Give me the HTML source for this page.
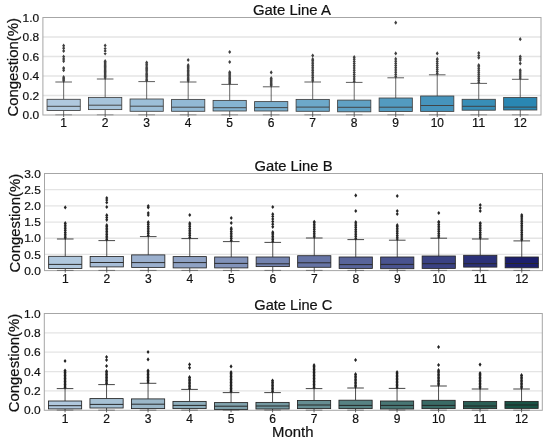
<!DOCTYPE html>
<html><head><meta charset="utf-8"><title>Gate Line Congestion</title>
<style>
html,body{margin:0;padding:0;background:#fff;}
body{width:550px;height:443px;overflow:hidden;}
svg{display:block;filter:blur(0.2px);}
text{font-family:"Liberation Sans", sans-serif;fill:#111;stroke:#111;stroke-width:0.2px;}
</style></head>
<body>
<svg width="550" height="443" viewBox="0 0 550 443">
<rect width="550" height="443" fill="#fff"/>
<line x1="42.90" y1="95.50" x2="541.00" y2="95.50" stroke="#e4e4e4" stroke-width="1.3"/>
<line x1="42.90" y1="76.00" x2="541.00" y2="76.00" stroke="#e4e4e4" stroke-width="1.3"/>
<line x1="42.90" y1="56.50" x2="541.00" y2="56.50" stroke="#e4e4e4" stroke-width="1.3"/>
<line x1="42.90" y1="37.00" x2="541.00" y2="37.00" stroke="#e4e4e4" stroke-width="1.3"/>
<rect x="42.90" y="17.50" width="498.10" height="97.50" fill="none" stroke="#a6a6a6" stroke-width="1.0"/>
<path d="M63.65 82.00V99.30M63.65 110.50V115.00" stroke="#404040" stroke-width="0.80" fill="none"/>
<path d="M55.35 82.00H71.96" stroke="#404040" stroke-width="0.85" fill="none"/>
<path d="M55.35 114.80H71.96" stroke="#404040" stroke-width="0.85" fill="none" opacity="0.55"/>
<rect x="47.05" y="99.30" width="33.21" height="11.20" fill="#b0c8de" stroke="#404040" stroke-width="0.85"/>
<line x1="47.05" y1="106.30" x2="80.26" y2="106.30" stroke="#404040" stroke-width="0.95"/>
<path d="M63.65 78.70L65.15 80.80L63.65 82.90L62.15 80.80ZM63.65 77.50L65.15 79.60L63.65 81.70L62.15 79.60ZM63.65 76.30L65.15 78.40L63.65 80.50L62.15 78.40ZM63.65 75.10L65.15 77.20L63.65 79.30L62.15 77.20ZM63.65 68.10L65.15 70.20L63.65 72.30L62.15 70.20ZM63.65 66.20L65.15 68.30L63.65 70.40L62.15 68.30ZM63.65 65.90L65.15 68.00L63.65 70.10L62.15 68.00ZM63.65 59.00L65.15 61.10L63.65 63.20L62.15 61.10ZM63.65 56.80L65.15 58.90L63.65 61.00L62.15 58.90ZM63.65 54.60L65.15 56.70L63.65 58.80L62.15 56.70ZM63.65 43.60L65.15 45.70L63.65 47.80L62.15 45.70ZM63.65 46.10L65.15 48.20L63.65 50.30L62.15 48.20ZM63.65 48.80L65.15 50.90L63.65 53.00L62.15 50.90Z" fill="#404040"/>
<path d="M105.16 79.00V97.40M105.16 109.60V115.00" stroke="#404040" stroke-width="0.80" fill="none"/>
<path d="M96.86 79.00H113.46" stroke="#404040" stroke-width="0.85" fill="none"/>
<path d="M96.86 114.80H113.46" stroke="#404040" stroke-width="0.85" fill="none" opacity="0.55"/>
<rect x="88.56" y="97.40" width="33.21" height="12.20" fill="#a7c4db" stroke="#404040" stroke-width="0.85"/>
<line x1="88.56" y1="105.20" x2="121.77" y2="105.20" stroke="#404040" stroke-width="0.95"/>
<path d="M105.16 75.70L106.66 77.80L105.16 79.90L103.66 77.80ZM105.16 74.45L106.66 76.55L105.16 78.65L103.66 76.55ZM105.16 73.20L106.66 75.30L105.16 77.40L103.66 75.30ZM105.16 71.95L106.66 74.05L105.16 76.15L103.66 74.05ZM105.16 70.70L106.66 72.80L105.16 74.90L103.66 72.80ZM105.16 69.45L106.66 71.55L105.16 73.65L103.66 71.55ZM105.16 68.20L106.66 70.30L105.16 72.40L103.66 70.30ZM105.16 66.95L106.66 69.05L105.16 71.15L103.66 69.05ZM105.16 65.70L106.66 67.80L105.16 69.90L103.66 67.80ZM105.16 64.45L106.66 66.55L105.16 68.65L103.66 66.55ZM105.16 63.20L106.66 65.30L105.16 67.40L103.66 65.30ZM105.16 61.95L106.66 64.05L105.16 66.15L103.66 64.05ZM105.16 60.70L106.66 62.80L105.16 64.90L103.66 62.80ZM105.16 59.45L106.66 61.55L105.16 63.65L103.66 61.55ZM105.16 59.10L106.66 61.20L105.16 63.30L103.66 61.20ZM105.16 43.40L106.66 45.50L105.16 47.60L103.66 45.50ZM105.16 46.40L106.66 48.50L105.16 50.60L103.66 48.50ZM105.16 48.90L106.66 51.00L105.16 53.10L103.66 51.00ZM105.16 51.40L106.66 53.50L105.16 55.60L103.66 53.50Z" fill="#404040"/>
<path d="M146.67 81.60V99.00M146.67 111.30V115.00" stroke="#404040" stroke-width="0.80" fill="none"/>
<path d="M138.37 81.60H154.97" stroke="#404040" stroke-width="0.85" fill="none"/>
<path d="M138.37 114.80H154.97" stroke="#404040" stroke-width="0.85" fill="none" opacity="0.55"/>
<rect x="130.07" y="99.00" width="33.21" height="12.30" fill="#9dbfd8" stroke="#404040" stroke-width="0.85"/>
<line x1="130.07" y1="106.20" x2="163.27" y2="106.20" stroke="#404040" stroke-width="0.95"/>
<path d="M146.67 78.30L148.17 80.40L146.67 82.50L145.17 80.40ZM146.67 77.10L148.17 79.20L146.67 81.30L145.17 79.20ZM146.67 75.90L148.17 78.00L146.67 80.10L145.17 78.00ZM146.67 74.70L148.17 76.80L146.67 78.90L145.17 76.80ZM146.67 73.50L148.17 75.60L146.67 77.70L145.17 75.60ZM146.67 72.30L148.17 74.40L146.67 76.50L145.17 74.40ZM146.67 71.10L148.17 73.20L146.67 75.30L145.17 73.20ZM146.67 69.90L148.17 72.00L146.67 74.10L145.17 72.00ZM146.67 68.70L148.17 70.80L146.67 72.90L145.17 70.80ZM146.67 67.50L148.17 69.60L146.67 71.70L145.17 69.60ZM146.67 66.30L148.17 68.40L146.67 70.50L145.17 68.40ZM146.67 65.10L148.17 67.20L146.67 69.30L145.17 67.20ZM146.67 63.90L148.17 66.00L146.67 68.10L145.17 66.00ZM146.67 62.70L148.17 64.80L146.67 66.90L145.17 64.80ZM146.67 61.50L148.17 63.60L146.67 65.70L145.17 63.60ZM146.67 60.50L148.17 62.60L146.67 64.70L145.17 62.60Z" fill="#404040"/>
<path d="M188.18 82.00V99.40M188.18 111.30V115.00" stroke="#404040" stroke-width="0.80" fill="none"/>
<path d="M179.88 82.00H196.48" stroke="#404040" stroke-width="0.85" fill="none"/>
<path d="M179.88 114.80H196.48" stroke="#404040" stroke-width="0.85" fill="none" opacity="0.55"/>
<rect x="171.58" y="99.40" width="33.21" height="11.90" fill="#92b9d4" stroke="#404040" stroke-width="0.85"/>
<line x1="171.58" y1="107.20" x2="204.78" y2="107.20" stroke="#404040" stroke-width="0.95"/>
<path d="M188.18 78.70L189.68 80.80L188.18 82.90L186.68 80.80ZM188.18 77.40L189.68 79.50L188.18 81.60L186.68 79.50ZM188.18 76.10L189.68 78.20L188.18 80.30L186.68 78.20ZM188.18 74.80L189.68 76.90L188.18 79.00L186.68 76.90ZM188.18 73.50L189.68 75.60L188.18 77.70L186.68 75.60ZM188.18 72.20L189.68 74.30L188.18 76.40L186.68 74.30ZM188.18 70.90L189.68 73.00L188.18 75.10L186.68 73.00ZM188.18 69.60L189.68 71.70L188.18 73.80L186.68 71.70ZM188.18 68.30L189.68 70.40L188.18 72.50L186.68 70.40ZM188.18 67.00L189.68 69.10L188.18 71.20L186.68 69.10ZM188.18 65.70L189.68 67.80L188.18 69.90L186.68 67.80ZM188.18 64.40L189.68 66.50L188.18 68.60L186.68 66.50ZM188.18 63.10L189.68 65.20L188.18 67.30L186.68 65.20ZM188.18 63.10L189.68 65.20L188.18 67.30L186.68 65.20ZM188.18 57.90L189.68 60.00L188.18 62.10L186.68 60.00Z" fill="#404040"/>
<path d="M229.69 84.40V100.40M229.69 111.00V115.00" stroke="#404040" stroke-width="0.80" fill="none"/>
<path d="M221.39 84.40H237.99" stroke="#404040" stroke-width="0.85" fill="none"/>
<path d="M221.39 114.80H237.99" stroke="#404040" stroke-width="0.85" fill="none" opacity="0.55"/>
<rect x="213.08" y="100.40" width="33.21" height="10.60" fill="#86b4d1" stroke="#404040" stroke-width="0.85"/>
<line x1="213.08" y1="107.70" x2="246.29" y2="107.70" stroke="#404040" stroke-width="0.95"/>
<path d="M229.69 81.10L231.19 83.20L229.69 85.30L228.19 83.20ZM229.69 79.90L231.19 82.00L229.69 84.10L228.19 82.00ZM229.69 78.70L231.19 80.80L229.69 82.90L228.19 80.80ZM229.69 77.50L231.19 79.60L229.69 81.70L228.19 79.60ZM229.69 76.30L231.19 78.40L229.69 80.50L228.19 78.40ZM229.69 75.10L231.19 77.20L229.69 79.30L228.19 77.20ZM229.69 73.90L231.19 76.00L229.69 78.10L228.19 76.00ZM229.69 72.70L231.19 74.80L229.69 76.90L228.19 74.80ZM229.69 71.50L231.19 73.60L229.69 75.70L228.19 73.60ZM229.69 70.30L231.19 72.40L229.69 74.50L228.19 72.40ZM229.69 70.10L231.19 72.20L229.69 74.30L228.19 72.20ZM229.69 59.90L231.19 62.00L229.69 64.10L228.19 62.00ZM229.69 49.90L231.19 52.00L229.69 54.10L228.19 52.00Z" fill="#404040"/>
<path d="M271.20 86.80V101.60M271.20 111.00V115.00" stroke="#404040" stroke-width="0.80" fill="none"/>
<path d="M262.89 86.80H279.50" stroke="#404040" stroke-width="0.85" fill="none"/>
<path d="M262.89 114.80H279.50" stroke="#404040" stroke-width="0.85" fill="none" opacity="0.55"/>
<rect x="254.59" y="101.60" width="33.21" height="9.40" fill="#7aaecd" stroke="#404040" stroke-width="0.85"/>
<line x1="254.59" y1="107.60" x2="287.80" y2="107.60" stroke="#404040" stroke-width="0.95"/>
<path d="M271.20 83.50L272.70 85.60L271.20 87.70L269.70 85.60ZM271.20 82.30L272.70 84.40L271.20 86.50L269.70 84.40ZM271.20 81.10L272.70 83.20L271.20 85.30L269.70 83.20ZM271.20 79.90L272.70 82.00L271.20 84.10L269.70 82.00ZM271.20 78.70L272.70 80.80L271.20 82.90L269.70 80.80ZM271.20 77.50L272.70 79.60L271.20 81.70L269.70 79.60ZM271.20 76.30L272.70 78.40L271.20 80.50L269.70 78.40ZM271.20 76.10L272.70 78.20L271.20 80.30L269.70 78.20ZM271.20 70.30L272.70 72.40L271.20 74.50L269.70 72.40Z" fill="#404040"/>
<path d="M312.70 82.00V99.40M312.70 111.30V115.00" stroke="#404040" stroke-width="0.80" fill="none"/>
<path d="M304.40 82.00H321.01" stroke="#404040" stroke-width="0.85" fill="none"/>
<path d="M304.40 114.80H321.01" stroke="#404040" stroke-width="0.85" fill="none" opacity="0.55"/>
<rect x="296.10" y="99.40" width="33.21" height="11.90" fill="#6da8c9" stroke="#404040" stroke-width="0.85"/>
<line x1="296.10" y1="107.10" x2="329.31" y2="107.10" stroke="#404040" stroke-width="0.95"/>
<path d="M312.70 78.70L314.20 80.80L312.70 82.90L311.20 80.80ZM312.70 77.00L314.20 79.10L312.70 81.20L311.20 79.10ZM312.70 75.30L314.20 77.40L312.70 79.50L311.20 77.40ZM312.70 73.60L314.20 75.70L312.70 77.80L311.20 75.70ZM312.70 71.90L314.20 74.00L312.70 76.10L311.20 74.00ZM312.70 70.20L314.20 72.30L312.70 74.40L311.20 72.30ZM312.70 68.50L314.20 70.60L312.70 72.70L311.20 70.60ZM312.70 66.80L314.20 68.90L312.70 71.00L311.20 68.90ZM312.70 65.10L314.20 67.20L312.70 69.30L311.20 67.20ZM312.70 63.40L314.20 65.50L312.70 67.60L311.20 65.50ZM312.70 61.70L314.20 63.80L312.70 65.90L311.20 63.80ZM312.70 60.00L314.20 62.10L312.70 64.20L311.20 62.10ZM312.70 58.30L314.20 60.40L312.70 62.50L311.20 60.40ZM312.70 57.10L314.20 59.20L312.70 61.30L311.20 59.20ZM312.70 53.50L314.20 55.60L312.70 57.70L311.20 55.60Z" fill="#404040"/>
<path d="M354.21 82.40V100.10M354.21 111.80V115.00" stroke="#404040" stroke-width="0.80" fill="none"/>
<path d="M345.91 82.40H362.51" stroke="#404040" stroke-width="0.85" fill="none"/>
<path d="M345.91 114.80H362.51" stroke="#404040" stroke-width="0.85" fill="none" opacity="0.55"/>
<rect x="337.61" y="100.10" width="33.21" height="11.70" fill="#60a1c4" stroke="#404040" stroke-width="0.85"/>
<line x1="337.61" y1="107.30" x2="370.82" y2="107.30" stroke="#404040" stroke-width="0.95"/>
<path d="M354.21 79.10L355.71 81.20L354.21 83.30L352.71 81.20ZM354.21 76.90L355.71 79.00L354.21 81.10L352.71 79.00ZM354.21 74.70L355.71 76.80L354.21 78.90L352.71 76.80ZM354.21 72.50L355.71 74.60L354.21 76.70L352.71 74.60ZM354.21 70.30L355.71 72.40L354.21 74.50L352.71 72.40ZM354.21 68.10L355.71 70.20L354.21 72.30L352.71 70.20ZM354.21 65.90L355.71 68.00L354.21 70.10L352.71 68.00ZM354.21 63.70L355.71 65.80L354.21 67.90L352.71 65.80ZM354.21 61.50L355.71 63.60L354.21 65.70L352.71 63.60ZM354.21 59.30L355.71 61.40L354.21 63.50L352.71 61.40ZM354.21 57.10L355.71 59.20L354.21 61.30L352.71 59.20ZM354.21 55.10L355.71 57.20L354.21 59.30L352.71 57.20Z" fill="#404040"/>
<path d="M395.72 77.80V98.00M395.72 111.50V115.00" stroke="#404040" stroke-width="0.80" fill="none"/>
<path d="M387.42 77.80H404.02" stroke="#404040" stroke-width="0.85" fill="none"/>
<path d="M387.42 114.80H404.02" stroke="#404040" stroke-width="0.85" fill="none" opacity="0.55"/>
<rect x="379.12" y="98.00" width="33.21" height="13.50" fill="#539bc0" stroke="#404040" stroke-width="0.85"/>
<line x1="379.12" y1="107.20" x2="412.32" y2="107.20" stroke="#404040" stroke-width="0.95"/>
<path d="M395.72 74.50L397.22 76.60L395.72 78.70L394.22 76.60ZM395.72 72.30L397.22 74.40L395.72 76.50L394.22 74.40ZM395.72 70.10L397.22 72.20L395.72 74.30L394.22 72.20ZM395.72 67.90L397.22 70.00L395.72 72.10L394.22 70.00ZM395.72 65.70L397.22 67.80L395.72 69.90L394.22 67.80ZM395.72 63.50L397.22 65.60L395.72 67.70L394.22 65.60ZM395.72 61.30L397.22 63.40L395.72 65.50L394.22 63.40ZM395.72 59.10L397.22 61.20L395.72 63.30L394.22 61.20ZM395.72 56.90L397.22 59.00L395.72 61.10L394.22 59.00ZM395.72 56.80L397.22 58.90L395.72 61.00L394.22 58.90ZM395.72 51.30L397.22 53.40L395.72 55.50L394.22 53.40ZM395.72 20.60L397.22 22.70L395.72 24.80L394.22 22.70Z" fill="#404040"/>
<path d="M437.23 74.80V96.00M437.23 111.40V115.00" stroke="#404040" stroke-width="0.80" fill="none"/>
<path d="M428.93 74.80H445.53" stroke="#404040" stroke-width="0.85" fill="none"/>
<path d="M428.93 114.80H445.53" stroke="#404040" stroke-width="0.85" fill="none" opacity="0.55"/>
<rect x="420.63" y="96.00" width="33.21" height="15.40" fill="#4694bc" stroke="#404040" stroke-width="0.85"/>
<line x1="420.63" y1="105.50" x2="453.83" y2="105.50" stroke="#404040" stroke-width="0.95"/>
<path d="M437.23 71.50L438.73 73.60L437.23 75.70L435.73 73.60ZM437.23 69.50L438.73 71.60L437.23 73.70L435.73 71.60ZM437.23 67.50L438.73 69.60L437.23 71.70L435.73 69.60ZM437.23 65.50L438.73 67.60L437.23 69.70L435.73 67.60ZM437.23 63.50L438.73 65.60L437.23 67.70L435.73 65.60ZM437.23 61.50L438.73 63.60L437.23 65.70L435.73 63.60ZM437.23 59.50L438.73 61.60L437.23 63.70L435.73 61.60ZM437.23 57.50L438.73 59.60L437.23 61.70L435.73 59.60ZM437.23 56.80L438.73 58.90L437.23 61.00L435.73 58.90ZM437.23 51.30L438.73 53.40L437.23 55.50L435.73 53.40Z" fill="#404040"/>
<path d="M478.74 83.40V99.30M478.74 110.20V115.00" stroke="#404040" stroke-width="0.80" fill="none"/>
<path d="M470.44 83.40H487.04" stroke="#404040" stroke-width="0.85" fill="none"/>
<path d="M470.44 114.80H487.04" stroke="#404040" stroke-width="0.85" fill="none" opacity="0.55"/>
<rect x="462.13" y="99.30" width="33.21" height="10.90" fill="#388eb7" stroke="#404040" stroke-width="0.85"/>
<line x1="462.13" y1="106.30" x2="495.34" y2="106.30" stroke="#404040" stroke-width="0.95"/>
<path d="M478.74 80.10L480.24 82.20L478.74 84.30L477.24 82.20ZM478.74 78.10L480.24 80.20L478.74 82.30L477.24 80.20ZM478.74 76.10L480.24 78.20L478.74 80.30L477.24 78.20ZM478.74 74.10L480.24 76.20L478.74 78.30L477.24 76.20ZM478.74 72.10L480.24 74.20L478.74 76.30L477.24 74.20ZM478.74 70.10L480.24 72.20L478.74 74.30L477.24 72.20ZM478.74 68.10L480.24 70.20L478.74 72.30L477.24 70.20ZM478.74 66.10L480.24 68.20L478.74 70.30L477.24 68.20ZM478.74 64.10L480.24 66.20L478.74 68.30L477.24 66.20ZM478.74 63.10L480.24 65.20L478.74 67.30L477.24 65.20ZM478.74 55.60L480.24 57.70L478.74 59.80L477.24 57.70ZM478.74 53.40L480.24 55.50L478.74 57.60L477.24 55.50ZM478.74 50.90L480.24 53.00L478.74 55.10L477.24 53.00Z" fill="#404040"/>
<path d="M520.25 79.30V97.50M520.25 110.00V115.00" stroke="#404040" stroke-width="0.80" fill="none"/>
<path d="M511.94 79.30H528.55" stroke="#404040" stroke-width="0.85" fill="none"/>
<path d="M511.94 114.80H528.55" stroke="#404040" stroke-width="0.85" fill="none" opacity="0.55"/>
<rect x="503.64" y="97.50" width="33.21" height="12.50" fill="#2a87b3" stroke="#404040" stroke-width="0.85"/>
<line x1="503.64" y1="107.10" x2="536.85" y2="107.10" stroke="#404040" stroke-width="0.95"/>
<path d="M520.25 76.00L521.75 78.10L520.25 80.20L518.75 78.10ZM520.25 74.00L521.75 76.10L520.25 78.20L518.75 76.10ZM520.25 72.00L521.75 74.10L520.25 76.20L518.75 74.10ZM520.25 70.00L521.75 72.10L520.25 74.20L518.75 72.10ZM520.25 68.10L521.75 70.20L520.25 72.30L518.75 70.20ZM520.25 61.30L521.75 63.40L520.25 65.50L518.75 63.40ZM520.25 57.90L521.75 60.00L520.25 62.10L518.75 60.00ZM520.25 56.20L521.75 58.30L520.25 60.40L518.75 58.30ZM520.25 54.50L521.75 56.60L520.25 58.70L518.75 56.60ZM520.25 37.10L521.75 39.20L520.25 41.30L518.75 39.20Z" fill="#404040"/>
<line x1="63.65" y1="115.00" x2="63.65" y2="117.00" stroke="#555" stroke-width="0.9"/>
<line x1="105.16" y1="115.00" x2="105.16" y2="117.00" stroke="#555" stroke-width="0.9"/>
<line x1="146.67" y1="115.00" x2="146.67" y2="117.00" stroke="#555" stroke-width="0.9"/>
<line x1="188.18" y1="115.00" x2="188.18" y2="117.00" stroke="#555" stroke-width="0.9"/>
<line x1="229.69" y1="115.00" x2="229.69" y2="117.00" stroke="#555" stroke-width="0.9"/>
<line x1="271.20" y1="115.00" x2="271.20" y2="117.00" stroke="#555" stroke-width="0.9"/>
<line x1="312.70" y1="115.00" x2="312.70" y2="117.00" stroke="#555" stroke-width="0.9"/>
<line x1="354.21" y1="115.00" x2="354.21" y2="117.00" stroke="#555" stroke-width="0.9"/>
<line x1="395.72" y1="115.00" x2="395.72" y2="117.00" stroke="#555" stroke-width="0.9"/>
<line x1="437.23" y1="115.00" x2="437.23" y2="117.00" stroke="#555" stroke-width="0.9"/>
<line x1="478.74" y1="115.00" x2="478.74" y2="117.00" stroke="#555" stroke-width="0.9"/>
<line x1="520.25" y1="115.00" x2="520.25" y2="117.00" stroke="#555" stroke-width="0.9"/>
<text x="39.20" y="119.10" text-anchor="end" font-size="11.4" textLength="16.6" lengthAdjust="spacingAndGlyphs">0.0</text>
<text x="39.20" y="99.60" text-anchor="end" font-size="11.4" textLength="16.6" lengthAdjust="spacingAndGlyphs">0.2</text>
<text x="39.20" y="80.10" text-anchor="end" font-size="11.4" textLength="16.6" lengthAdjust="spacingAndGlyphs">0.4</text>
<text x="39.20" y="60.60" text-anchor="end" font-size="11.4" textLength="16.6" lengthAdjust="spacingAndGlyphs">0.6</text>
<text x="39.20" y="41.10" text-anchor="end" font-size="11.4" textLength="16.6" lengthAdjust="spacingAndGlyphs">0.8</text>
<text x="39.20" y="21.60" text-anchor="end" font-size="11.4" textLength="16.6" lengthAdjust="spacingAndGlyphs">1.0</text>
<text x="63.65" y="126.60" text-anchor="middle" font-size="12.1" textLength="6.7" lengthAdjust="spacingAndGlyphs">1</text>
<text x="105.16" y="126.60" text-anchor="middle" font-size="12.1" textLength="6.7" lengthAdjust="spacingAndGlyphs">2</text>
<text x="146.67" y="126.60" text-anchor="middle" font-size="12.1" textLength="6.7" lengthAdjust="spacingAndGlyphs">3</text>
<text x="188.18" y="126.60" text-anchor="middle" font-size="12.1" textLength="6.7" lengthAdjust="spacingAndGlyphs">4</text>
<text x="229.69" y="126.60" text-anchor="middle" font-size="12.1" textLength="6.7" lengthAdjust="spacingAndGlyphs">5</text>
<text x="271.20" y="126.60" text-anchor="middle" font-size="12.1" textLength="6.7" lengthAdjust="spacingAndGlyphs">6</text>
<text x="312.70" y="126.60" text-anchor="middle" font-size="12.1" textLength="6.7" lengthAdjust="spacingAndGlyphs">7</text>
<text x="354.21" y="126.60" text-anchor="middle" font-size="12.1" textLength="6.7" lengthAdjust="spacingAndGlyphs">8</text>
<text x="395.72" y="126.60" text-anchor="middle" font-size="12.1" textLength="6.7" lengthAdjust="spacingAndGlyphs">9</text>
<text x="437.23" y="126.60" text-anchor="middle" font-size="12.1" textLength="13.2" lengthAdjust="spacingAndGlyphs">10</text>
<text x="478.74" y="126.60" text-anchor="middle" font-size="12.1" textLength="13.2" lengthAdjust="spacingAndGlyphs">11</text>
<text x="520.25" y="126.60" text-anchor="middle" font-size="12.1" textLength="13.2" lengthAdjust="spacingAndGlyphs">12</text>
<text x="291.95" y="14.60" text-anchor="middle" font-size="14" textLength="78" lengthAdjust="spacingAndGlyphs">Gate Line A</text>
<text transform="translate(17.90 67.35) rotate(-90)" x="0" y="0" text-anchor="middle" font-size="13.8" textLength="98.5" lengthAdjust="spacingAndGlyphs">Congestion(%)</text>
<line x1="44.50" y1="254.42" x2="542.50" y2="254.42" stroke="#e4e4e4" stroke-width="1.3"/>
<line x1="44.50" y1="238.23" x2="542.50" y2="238.23" stroke="#e4e4e4" stroke-width="1.3"/>
<line x1="44.50" y1="222.05" x2="542.50" y2="222.05" stroke="#e4e4e4" stroke-width="1.3"/>
<line x1="44.50" y1="205.87" x2="542.50" y2="205.87" stroke="#e4e4e4" stroke-width="1.3"/>
<line x1="44.50" y1="189.68" x2="542.50" y2="189.68" stroke="#e4e4e4" stroke-width="1.3"/>
<rect x="44.50" y="173.50" width="498.00" height="97.10" fill="none" stroke="#a6a6a6" stroke-width="1.0"/>
<path d="M65.25 239.00V256.30M65.25 268.50V270.60" stroke="#262626" stroke-width="0.80" fill="none"/>
<path d="M56.95 239.00H73.55" stroke="#262626" stroke-width="0.85" fill="none"/>
<path d="M56.95 270.40H73.55" stroke="#262626" stroke-width="0.85" fill="none" opacity="0.55"/>
<rect x="48.65" y="256.30" width="33.20" height="12.20" fill="#b0c8de" stroke="#262626" stroke-width="0.85"/>
<line x1="48.65" y1="264.40" x2="81.85" y2="264.40" stroke="#262626" stroke-width="0.95"/>
<path d="M65.25 235.70L66.75 237.80L65.25 239.90L63.75 237.80ZM65.25 233.90L66.75 236.00L65.25 238.10L63.75 236.00ZM65.25 232.10L66.75 234.20L65.25 236.30L63.75 234.20ZM65.25 230.30L66.75 232.40L65.25 234.50L63.75 232.40ZM65.25 228.50L66.75 230.60L65.25 232.70L63.75 230.60ZM65.25 226.70L66.75 228.80L65.25 230.90L63.75 228.80ZM65.25 224.90L66.75 227.00L65.25 229.10L63.75 227.00ZM65.25 223.10L66.75 225.20L65.25 227.30L63.75 225.20ZM65.25 221.30L66.75 223.40L65.25 225.50L63.75 223.40ZM65.25 221.10L66.75 223.20L65.25 225.30L63.75 223.20ZM65.25 205.30L66.75 207.40L65.25 209.50L63.75 207.40Z" fill="#262626"/>
<path d="M106.75 240.60V256.50M106.75 266.90V270.60" stroke="#262626" stroke-width="0.80" fill="none"/>
<path d="M98.45 240.60H115.05" stroke="#262626" stroke-width="0.85" fill="none"/>
<path d="M98.45 270.40H115.05" stroke="#262626" stroke-width="0.85" fill="none" opacity="0.55"/>
<rect x="90.15" y="256.50" width="33.20" height="10.40" fill="#a7bdd7" stroke="#262626" stroke-width="0.85"/>
<line x1="90.15" y1="262.50" x2="123.35" y2="262.50" stroke="#262626" stroke-width="0.95"/>
<path d="M106.75 237.30L108.25 239.40L106.75 241.50L105.25 239.40ZM106.75 235.70L108.25 237.80L106.75 239.90L105.25 237.80ZM106.75 234.10L108.25 236.20L106.75 238.30L105.25 236.20ZM106.75 232.50L108.25 234.60L106.75 236.70L105.25 234.60ZM106.75 230.90L108.25 233.00L106.75 235.10L105.25 233.00ZM106.75 229.30L108.25 231.40L106.75 233.50L105.25 231.40ZM106.75 227.70L108.25 229.80L106.75 231.90L105.25 229.80ZM106.75 226.10L108.25 228.20L106.75 230.30L105.25 228.20ZM106.75 224.50L108.25 226.60L106.75 228.70L105.25 226.60ZM106.75 223.10L108.25 225.20L106.75 227.30L105.25 225.20ZM106.75 217.70L108.25 219.80L106.75 221.90L105.25 219.80ZM106.75 215.50L108.25 217.60L106.75 219.70L105.25 217.60ZM106.75 213.30L108.25 215.40L106.75 217.50L105.25 215.40ZM106.75 213.10L108.25 215.20L106.75 217.30L105.25 215.20ZM106.75 204.90L108.25 207.00L106.75 209.10L105.25 207.00ZM106.75 200.40L108.25 202.50L106.75 204.60L105.25 202.50ZM106.75 197.90L108.25 200.00L106.75 202.10L105.25 200.00ZM106.75 195.90L108.25 198.00L106.75 200.10L105.25 198.00Z" fill="#262626"/>
<path d="M148.25 236.60V254.90M148.25 267.40V270.60" stroke="#262626" stroke-width="0.80" fill="none"/>
<path d="M139.95 236.60H156.55" stroke="#262626" stroke-width="0.85" fill="none"/>
<path d="M139.95 270.40H156.55" stroke="#262626" stroke-width="0.85" fill="none" opacity="0.55"/>
<rect x="131.65" y="254.90" width="33.20" height="12.50" fill="#9bb0ce" stroke="#262626" stroke-width="0.85"/>
<line x1="131.65" y1="262.60" x2="164.85" y2="262.60" stroke="#262626" stroke-width="0.95"/>
<path d="M148.25 233.30L149.75 235.40L148.25 237.50L146.75 235.40ZM148.25 231.50L149.75 233.60L148.25 235.70L146.75 233.60ZM148.25 229.70L149.75 231.80L148.25 233.90L146.75 231.80ZM148.25 227.90L149.75 230.00L148.25 232.10L146.75 230.00ZM148.25 226.10L149.75 228.20L148.25 230.30L146.75 228.20ZM148.25 224.30L149.75 226.40L148.25 228.50L146.75 226.40ZM148.25 222.50L149.75 224.60L148.25 226.70L146.75 224.60ZM148.25 220.70L149.75 222.80L148.25 224.90L146.75 222.80ZM148.25 220.10L149.75 222.20L148.25 224.30L146.75 222.20ZM148.25 212.90L149.75 215.00L148.25 217.10L146.75 215.00ZM148.25 210.90L149.75 213.00L148.25 215.10L146.75 213.00ZM148.25 205.30L149.75 207.40L148.25 209.50L146.75 207.40ZM148.25 203.90L149.75 206.00L148.25 208.10L146.75 206.00Z" fill="#262626"/>
<path d="M189.75 238.60V256.60M189.75 267.90V270.60" stroke="#262626" stroke-width="0.80" fill="none"/>
<path d="M181.45 238.60H198.05" stroke="#262626" stroke-width="0.85" fill="none"/>
<path d="M181.45 270.40H198.05" stroke="#262626" stroke-width="0.85" fill="none" opacity="0.55"/>
<rect x="173.15" y="256.60" width="33.20" height="11.30" fill="#8fa2c4" stroke="#262626" stroke-width="0.85"/>
<line x1="173.15" y1="262.60" x2="206.35" y2="262.60" stroke="#262626" stroke-width="0.95"/>
<path d="M189.75 235.30L191.25 237.40L189.75 239.50L188.25 237.40ZM189.75 233.50L191.25 235.60L189.75 237.70L188.25 235.60ZM189.75 231.70L191.25 233.80L189.75 235.90L188.25 233.80ZM189.75 229.90L191.25 232.00L189.75 234.10L188.25 232.00ZM189.75 228.10L191.25 230.20L189.75 232.30L188.25 230.20ZM189.75 226.30L191.25 228.40L189.75 230.50L188.25 228.40ZM189.75 224.50L191.25 226.60L189.75 228.70L188.25 226.60ZM189.75 222.70L191.25 224.80L189.75 226.90L188.25 224.80ZM189.75 221.10L191.25 223.20L189.75 225.30L188.25 223.20ZM189.75 212.90L191.25 215.00L189.75 217.10L188.25 215.00Z" fill="#262626"/>
<path d="M231.25 241.60V257.00M231.25 267.90V270.60" stroke="#262626" stroke-width="0.80" fill="none"/>
<path d="M222.95 241.60H239.55" stroke="#262626" stroke-width="0.85" fill="none"/>
<path d="M222.95 270.40H239.55" stroke="#262626" stroke-width="0.85" fill="none" opacity="0.55"/>
<rect x="214.65" y="257.00" width="33.20" height="10.90" fill="#8293ba" stroke="#262626" stroke-width="0.85"/>
<line x1="214.65" y1="263.40" x2="247.85" y2="263.40" stroke="#262626" stroke-width="0.95"/>
<path d="M231.25 238.30L232.75 240.40L231.25 242.50L229.75 240.40ZM231.25 236.50L232.75 238.60L231.25 240.70L229.75 238.60ZM231.25 234.70L232.75 236.80L231.25 238.90L229.75 236.80ZM231.25 232.90L232.75 235.00L231.25 237.10L229.75 235.00ZM231.25 231.10L232.75 233.20L231.25 235.30L229.75 233.20ZM231.25 229.30L232.75 231.40L231.25 233.50L229.75 231.40ZM231.25 227.50L232.75 229.60L231.25 231.70L229.75 229.60ZM231.25 226.10L232.75 228.20L231.25 230.30L229.75 228.20ZM231.25 220.90L232.75 223.00L231.25 225.10L229.75 223.00ZM231.25 215.90L232.75 218.00L231.25 220.10L229.75 218.00Z" fill="#262626"/>
<path d="M272.75 242.40V257.00M272.75 266.60V270.60" stroke="#262626" stroke-width="0.80" fill="none"/>
<path d="M264.45 242.40H281.05" stroke="#262626" stroke-width="0.85" fill="none"/>
<path d="M264.45 270.40H281.05" stroke="#262626" stroke-width="0.85" fill="none" opacity="0.55"/>
<rect x="256.15" y="257.00" width="33.20" height="9.60" fill="#7484b0" stroke="#262626" stroke-width="0.85"/>
<line x1="256.15" y1="263.80" x2="289.35" y2="263.80" stroke="#262626" stroke-width="0.95"/>
<path d="M272.75 239.10L274.25 241.20L272.75 243.30L271.25 241.20ZM272.75 237.50L274.25 239.60L272.75 241.70L271.25 239.60ZM272.75 235.90L274.25 238.00L272.75 240.10L271.25 238.00ZM272.75 234.30L274.25 236.40L272.75 238.50L271.25 236.40ZM272.75 232.70L274.25 234.80L272.75 236.90L271.25 234.80ZM272.75 231.10L274.25 233.20L272.75 235.30L271.25 233.20ZM272.75 230.10L274.25 232.20L272.75 234.30L271.25 232.20ZM272.75 224.70L274.25 226.80L272.75 228.90L271.25 226.80ZM272.75 222.10L274.25 224.20L272.75 226.30L271.25 224.20ZM272.75 219.50L274.25 221.60L272.75 223.70L271.25 221.60ZM272.75 216.90L274.25 219.00L272.75 221.10L271.25 219.00ZM272.75 214.30L274.25 216.40L272.75 218.50L271.25 216.40ZM272.75 212.10L274.25 214.20L272.75 216.30L271.25 214.20ZM272.75 204.90L274.25 207.00L272.75 209.10L271.25 207.00Z" fill="#262626"/>
<path d="M314.25 238.00V255.70M314.25 267.30V270.60" stroke="#262626" stroke-width="0.80" fill="none"/>
<path d="M305.95 238.00H322.55" stroke="#262626" stroke-width="0.85" fill="none"/>
<path d="M305.95 270.40H322.55" stroke="#262626" stroke-width="0.85" fill="none" opacity="0.55"/>
<rect x="297.65" y="255.70" width="33.20" height="11.60" fill="#6674a5" stroke="#262626" stroke-width="0.85"/>
<line x1="297.65" y1="262.80" x2="330.85" y2="262.80" stroke="#262626" stroke-width="0.95"/>
<path d="M314.25 234.70L315.75 236.80L314.25 238.90L312.75 236.80ZM314.25 232.90L315.75 235.00L314.25 237.10L312.75 235.00ZM314.25 231.10L315.75 233.20L314.25 235.30L312.75 233.20ZM314.25 229.30L315.75 231.40L314.25 233.50L312.75 231.40ZM314.25 227.50L315.75 229.60L314.25 231.70L312.75 229.60ZM314.25 225.70L315.75 227.80L314.25 229.90L312.75 227.80ZM314.25 223.90L315.75 226.00L314.25 228.10L312.75 226.00ZM314.25 222.10L315.75 224.20L314.25 226.30L312.75 224.20ZM314.25 220.30L315.75 222.40L314.25 224.50L312.75 222.40ZM314.25 219.70L315.75 221.80L314.25 223.90L312.75 221.80Z" fill="#262626"/>
<path d="M355.75 239.60V257.00M355.75 268.40V270.60" stroke="#262626" stroke-width="0.80" fill="none"/>
<path d="M347.45 239.60H364.05" stroke="#262626" stroke-width="0.85" fill="none"/>
<path d="M347.45 270.40H364.05" stroke="#262626" stroke-width="0.85" fill="none" opacity="0.55"/>
<rect x="339.15" y="257.00" width="33.20" height="11.40" fill="#58649a" stroke="#262626" stroke-width="0.85"/>
<line x1="339.15" y1="264.60" x2="372.35" y2="264.60" stroke="#262626" stroke-width="0.95"/>
<path d="M355.75 236.30L357.25 238.40L355.75 240.50L354.25 238.40ZM355.75 234.50L357.25 236.60L355.75 238.70L354.25 236.60ZM355.75 232.70L357.25 234.80L355.75 236.90L354.25 234.80ZM355.75 230.90L357.25 233.00L355.75 235.10L354.25 233.00ZM355.75 229.10L357.25 231.20L355.75 233.30L354.25 231.20ZM355.75 227.30L357.25 229.40L355.75 231.50L354.25 229.40ZM355.75 225.50L357.25 227.60L355.75 229.70L354.25 227.60ZM355.75 223.70L357.25 225.80L355.75 227.90L354.25 225.80ZM355.75 221.90L357.25 224.00L355.75 226.10L354.25 224.00ZM355.75 220.10L357.25 222.20L355.75 224.30L354.25 222.20ZM355.75 208.90L357.25 211.00L355.75 213.10L354.25 211.00ZM355.75 193.30L357.25 195.40L355.75 197.50L354.25 195.40Z" fill="#262626"/>
<path d="M397.25 240.20V257.00M397.25 268.70V270.60" stroke="#262626" stroke-width="0.80" fill="none"/>
<path d="M388.95 240.20H405.55" stroke="#262626" stroke-width="0.85" fill="none"/>
<path d="M388.95 270.40H405.55" stroke="#262626" stroke-width="0.85" fill="none" opacity="0.55"/>
<rect x="380.65" y="257.00" width="33.20" height="11.70" fill="#49538f" stroke="#262626" stroke-width="0.85"/>
<line x1="380.65" y1="264.40" x2="413.85" y2="264.40" stroke="#262626" stroke-width="0.95"/>
<path d="M397.25 236.90L398.75 239.00L397.25 241.10L395.75 239.00ZM397.25 235.10L398.75 237.20L397.25 239.30L395.75 237.20ZM397.25 233.30L398.75 235.40L397.25 237.50L395.75 235.40ZM397.25 231.50L398.75 233.60L397.25 235.70L395.75 233.60ZM397.25 229.70L398.75 231.80L397.25 233.90L395.75 231.80ZM397.25 227.90L398.75 230.00L397.25 232.10L395.75 230.00ZM397.25 226.10L398.75 228.20L397.25 230.30L395.75 228.20ZM397.25 224.30L398.75 226.40L397.25 228.50L395.75 226.40ZM397.25 223.10L398.75 225.20L397.25 227.30L395.75 225.20ZM397.25 211.90L398.75 214.00L397.25 216.10L395.75 214.00ZM397.25 208.90L398.75 211.00L397.25 213.10L395.75 211.00ZM397.25 193.90L398.75 196.00L397.25 198.10L395.75 196.00Z" fill="#262626"/>
<path d="M438.75 238.20V256.00M438.75 268.40V270.60" stroke="#262626" stroke-width="0.80" fill="none"/>
<path d="M430.45 238.20H447.05" stroke="#262626" stroke-width="0.85" fill="none"/>
<path d="M430.45 270.40H447.05" stroke="#262626" stroke-width="0.85" fill="none" opacity="0.55"/>
<rect x="422.15" y="256.00" width="33.20" height="12.40" fill="#3a4283" stroke="#262626" stroke-width="0.85"/>
<line x1="422.15" y1="263.70" x2="455.35" y2="263.70" stroke="#262626" stroke-width="0.95"/>
<path d="M438.75 234.90L440.25 237.00L438.75 239.10L437.25 237.00ZM438.75 233.10L440.25 235.20L438.75 237.30L437.25 235.20ZM438.75 231.30L440.25 233.40L438.75 235.50L437.25 233.40ZM438.75 229.50L440.25 231.60L438.75 233.70L437.25 231.60ZM438.75 227.70L440.25 229.80L438.75 231.90L437.25 229.80ZM438.75 225.90L440.25 228.00L438.75 230.10L437.25 228.00ZM438.75 224.10L440.25 226.20L438.75 228.30L437.25 226.20ZM438.75 222.30L440.25 224.40L438.75 226.50L437.25 224.40ZM438.75 220.50L440.25 222.60L438.75 224.70L437.25 222.60ZM438.75 219.70L440.25 221.80L438.75 223.90L437.25 221.80ZM438.75 210.90L440.25 213.00L438.75 215.10L437.25 213.00Z" fill="#262626"/>
<path d="M480.25 239.00V255.30M480.25 267.10V270.60" stroke="#262626" stroke-width="0.80" fill="none"/>
<path d="M471.95 239.00H488.55" stroke="#262626" stroke-width="0.85" fill="none"/>
<path d="M471.95 270.40H488.55" stroke="#262626" stroke-width="0.85" fill="none" opacity="0.55"/>
<rect x="463.65" y="255.30" width="33.20" height="11.80" fill="#2b3178" stroke="#262626" stroke-width="0.85"/>
<line x1="463.65" y1="263.70" x2="496.85" y2="263.70" stroke="#262626" stroke-width="0.95"/>
<path d="M480.25 235.70L481.75 237.80L480.25 239.90L478.75 237.80ZM480.25 233.90L481.75 236.00L480.25 238.10L478.75 236.00ZM480.25 232.10L481.75 234.20L480.25 236.30L478.75 234.20ZM480.25 230.30L481.75 232.40L480.25 234.50L478.75 232.40ZM480.25 228.50L481.75 230.60L480.25 232.70L478.75 230.60ZM480.25 226.70L481.75 228.80L480.25 230.90L478.75 228.80ZM480.25 224.90L481.75 227.00L480.25 229.10L478.75 227.00ZM480.25 223.10L481.75 225.20L480.25 227.30L478.75 225.20ZM480.25 221.30L481.75 223.40L480.25 225.50L478.75 223.40ZM480.25 220.90L481.75 223.00L480.25 225.10L478.75 223.00ZM480.25 208.90L481.75 211.00L480.25 213.10L478.75 211.00ZM480.25 205.90L481.75 208.00L480.25 210.10L478.75 208.00ZM480.25 202.90L481.75 205.00L480.25 207.10L478.75 205.00Z" fill="#262626"/>
<path d="M521.75 240.90V257.00M521.75 267.80V270.60" stroke="#262626" stroke-width="0.80" fill="none"/>
<path d="M513.45 240.90H530.05" stroke="#262626" stroke-width="0.85" fill="none"/>
<path d="M513.45 270.40H530.05" stroke="#262626" stroke-width="0.85" fill="none" opacity="0.55"/>
<rect x="505.15" y="257.00" width="33.20" height="10.80" fill="#1c1f6c" stroke="#262626" stroke-width="0.85"/>
<line x1="505.15" y1="263.50" x2="538.35" y2="263.50" stroke="#262626" stroke-width="0.95"/>
<path d="M521.75 237.60L523.25 239.70L521.75 241.80L520.25 239.70ZM521.75 235.80L523.25 237.90L521.75 240.00L520.25 237.90ZM521.75 234.00L523.25 236.10L521.75 238.20L520.25 236.10ZM521.75 232.20L523.25 234.30L521.75 236.40L520.25 234.30ZM521.75 230.40L523.25 232.50L521.75 234.60L520.25 232.50ZM521.75 228.60L523.25 230.70L521.75 232.80L520.25 230.70ZM521.75 226.80L523.25 228.90L521.75 231.00L520.25 228.90ZM521.75 225.00L523.25 227.10L521.75 229.20L520.25 227.10ZM521.75 223.20L523.25 225.30L521.75 227.40L520.25 225.30ZM521.75 221.40L523.25 223.50L521.75 225.60L520.25 223.50ZM521.75 219.60L523.25 221.70L521.75 223.80L520.25 221.70ZM521.75 217.80L523.25 219.90L521.75 222.00L520.25 219.90ZM521.75 216.00L523.25 218.10L521.75 220.20L520.25 218.10ZM521.75 214.20L523.25 216.30L521.75 218.40L520.25 216.30ZM521.75 212.90L523.25 215.00L521.75 217.10L520.25 215.00Z" fill="#262626"/>
<line x1="65.25" y1="270.60" x2="65.25" y2="272.60" stroke="#555" stroke-width="0.9"/>
<line x1="106.75" y1="270.60" x2="106.75" y2="272.60" stroke="#555" stroke-width="0.9"/>
<line x1="148.25" y1="270.60" x2="148.25" y2="272.60" stroke="#555" stroke-width="0.9"/>
<line x1="189.75" y1="270.60" x2="189.75" y2="272.60" stroke="#555" stroke-width="0.9"/>
<line x1="231.25" y1="270.60" x2="231.25" y2="272.60" stroke="#555" stroke-width="0.9"/>
<line x1="272.75" y1="270.60" x2="272.75" y2="272.60" stroke="#555" stroke-width="0.9"/>
<line x1="314.25" y1="270.60" x2="314.25" y2="272.60" stroke="#555" stroke-width="0.9"/>
<line x1="355.75" y1="270.60" x2="355.75" y2="272.60" stroke="#555" stroke-width="0.9"/>
<line x1="397.25" y1="270.60" x2="397.25" y2="272.60" stroke="#555" stroke-width="0.9"/>
<line x1="438.75" y1="270.60" x2="438.75" y2="272.60" stroke="#555" stroke-width="0.9"/>
<line x1="480.25" y1="270.60" x2="480.25" y2="272.60" stroke="#555" stroke-width="0.9"/>
<line x1="521.75" y1="270.60" x2="521.75" y2="272.60" stroke="#555" stroke-width="0.9"/>
<text x="40.80" y="274.70" text-anchor="end" font-size="11.4" textLength="16.6" lengthAdjust="spacingAndGlyphs">0.0</text>
<text x="40.80" y="258.52" text-anchor="end" font-size="11.4" textLength="16.6" lengthAdjust="spacingAndGlyphs">0.5</text>
<text x="40.80" y="242.33" text-anchor="end" font-size="11.4" textLength="16.6" lengthAdjust="spacingAndGlyphs">1.0</text>
<text x="40.80" y="226.15" text-anchor="end" font-size="11.4" textLength="16.6" lengthAdjust="spacingAndGlyphs">1.5</text>
<text x="40.80" y="209.97" text-anchor="end" font-size="11.4" textLength="16.6" lengthAdjust="spacingAndGlyphs">2.0</text>
<text x="40.80" y="193.78" text-anchor="end" font-size="11.4" textLength="16.6" lengthAdjust="spacingAndGlyphs">2.5</text>
<text x="40.80" y="177.60" text-anchor="end" font-size="11.4" textLength="16.6" lengthAdjust="spacingAndGlyphs">3.0</text>
<text x="65.25" y="282.60" text-anchor="middle" font-size="12.1" textLength="6.7" lengthAdjust="spacingAndGlyphs">1</text>
<text x="106.75" y="282.60" text-anchor="middle" font-size="12.1" textLength="6.7" lengthAdjust="spacingAndGlyphs">2</text>
<text x="148.25" y="282.60" text-anchor="middle" font-size="12.1" textLength="6.7" lengthAdjust="spacingAndGlyphs">3</text>
<text x="189.75" y="282.60" text-anchor="middle" font-size="12.1" textLength="6.7" lengthAdjust="spacingAndGlyphs">4</text>
<text x="231.25" y="282.60" text-anchor="middle" font-size="12.1" textLength="6.7" lengthAdjust="spacingAndGlyphs">5</text>
<text x="272.75" y="282.60" text-anchor="middle" font-size="12.1" textLength="6.7" lengthAdjust="spacingAndGlyphs">6</text>
<text x="314.25" y="282.60" text-anchor="middle" font-size="12.1" textLength="6.7" lengthAdjust="spacingAndGlyphs">7</text>
<text x="355.75" y="282.60" text-anchor="middle" font-size="12.1" textLength="6.7" lengthAdjust="spacingAndGlyphs">8</text>
<text x="397.25" y="282.60" text-anchor="middle" font-size="12.1" textLength="6.7" lengthAdjust="spacingAndGlyphs">9</text>
<text x="438.75" y="282.60" text-anchor="middle" font-size="12.1" textLength="13.2" lengthAdjust="spacingAndGlyphs">10</text>
<text x="480.25" y="282.60" text-anchor="middle" font-size="12.1" textLength="13.2" lengthAdjust="spacingAndGlyphs">11</text>
<text x="521.75" y="282.60" text-anchor="middle" font-size="12.1" textLength="13.2" lengthAdjust="spacingAndGlyphs">12</text>
<text x="293.50" y="170.50" text-anchor="middle" font-size="14" textLength="78" lengthAdjust="spacingAndGlyphs">Gate Line B</text>
<text transform="translate(19.50 223.15) rotate(-90)" x="0" y="0" text-anchor="middle" font-size="13.8" textLength="98.5" lengthAdjust="spacingAndGlyphs">Congestion(%)</text>
<line x1="44.30" y1="390.94" x2="542.30" y2="390.94" stroke="#e4e4e4" stroke-width="1.3"/>
<line x1="44.30" y1="371.58" x2="542.30" y2="371.58" stroke="#e4e4e4" stroke-width="1.3"/>
<line x1="44.30" y1="352.22" x2="542.30" y2="352.22" stroke="#e4e4e4" stroke-width="1.3"/>
<line x1="44.30" y1="332.86" x2="542.30" y2="332.86" stroke="#e4e4e4" stroke-width="1.3"/>
<rect x="44.30" y="313.50" width="498.00" height="96.80" fill="none" stroke="#a6a6a6" stroke-width="1.0"/>
<path d="M65.05 388.60V401.00M65.05 408.90V410.30" stroke="#222222" stroke-width="0.80" fill="none"/>
<path d="M56.75 388.60H73.35" stroke="#222222" stroke-width="0.85" fill="none"/>
<path d="M56.75 410.10H73.35" stroke="#222222" stroke-width="0.85" fill="none" opacity="0.55"/>
<rect x="48.45" y="401.00" width="33.20" height="7.90" fill="#b0c8de" stroke="#222222" stroke-width="0.85"/>
<line x1="48.45" y1="405.70" x2="81.65" y2="405.70" stroke="#222222" stroke-width="0.95"/>
<path d="M65.05 385.30L66.55 387.40L65.05 389.50L63.55 387.40ZM65.05 383.80L66.55 385.90L65.05 388.00L63.55 385.90ZM65.05 382.30L66.55 384.40L65.05 386.50L63.55 384.40ZM65.05 380.80L66.55 382.90L65.05 385.00L63.55 382.90ZM65.05 379.30L66.55 381.40L65.05 383.50L63.55 381.40ZM65.05 377.80L66.55 379.90L65.05 382.00L63.55 379.90ZM65.05 376.30L66.55 378.40L65.05 380.50L63.55 378.40ZM65.05 374.80L66.55 376.90L65.05 379.00L63.55 376.90ZM65.05 373.30L66.55 375.40L65.05 377.50L63.55 375.40ZM65.05 371.80L66.55 373.90L65.05 376.00L63.55 373.90ZM65.05 370.30L66.55 372.40L65.05 374.50L63.55 372.40ZM65.05 368.80L66.55 370.90L65.05 373.00L63.55 370.90ZM65.05 368.50L66.55 370.60L65.05 372.70L63.55 370.60ZM65.05 358.90L66.55 361.00L65.05 363.10L63.55 361.00Z" fill="#222222"/>
<path d="M106.55 384.60V398.60M106.55 408.00V410.30" stroke="#222222" stroke-width="0.80" fill="none"/>
<path d="M98.25 384.60H114.85" stroke="#222222" stroke-width="0.85" fill="none"/>
<path d="M98.25 410.10H114.85" stroke="#222222" stroke-width="0.85" fill="none" opacity="0.55"/>
<rect x="89.95" y="398.60" width="33.20" height="9.40" fill="#a6c1d4" stroke="#222222" stroke-width="0.85"/>
<line x1="89.95" y1="404.40" x2="123.15" y2="404.40" stroke="#222222" stroke-width="0.95"/>
<path d="M106.55 381.30L108.05 383.40L106.55 385.50L105.05 383.40ZM106.55 379.80L108.05 381.90L106.55 384.00L105.05 381.90ZM106.55 378.30L108.05 380.40L106.55 382.50L105.05 380.40ZM106.55 376.80L108.05 378.90L106.55 381.00L105.05 378.90ZM106.55 375.30L108.05 377.40L106.55 379.50L105.05 377.40ZM106.55 373.80L108.05 375.90L106.55 378.00L105.05 375.90ZM106.55 372.30L108.05 374.40L106.55 376.50L105.05 374.40ZM106.55 370.80L108.05 372.90L106.55 375.00L105.05 372.90ZM106.55 369.30L108.05 371.40L106.55 373.50L105.05 371.40ZM106.55 369.10L108.05 371.20L106.55 373.30L105.05 371.20ZM106.55 363.90L108.05 366.00L106.55 368.10L105.05 366.00ZM106.55 357.90L108.05 360.00L106.55 362.10L105.05 360.00ZM106.55 354.90L108.05 357.00L106.55 359.10L105.05 357.00Z" fill="#222222"/>
<path d="M148.05 383.30V398.90M148.05 408.60V410.30" stroke="#222222" stroke-width="0.80" fill="none"/>
<path d="M139.75 383.30H156.35" stroke="#222222" stroke-width="0.85" fill="none"/>
<path d="M139.75 410.10H156.35" stroke="#222222" stroke-width="0.85" fill="none" opacity="0.55"/>
<rect x="131.45" y="398.90" width="33.20" height="9.70" fill="#9bb7c8" stroke="#222222" stroke-width="0.85"/>
<line x1="131.45" y1="404.20" x2="164.65" y2="404.20" stroke="#222222" stroke-width="0.95"/>
<path d="M148.05 380.00L149.55 382.10L148.05 384.20L146.55 382.10ZM148.05 378.50L149.55 380.60L148.05 382.70L146.55 380.60ZM148.05 377.00L149.55 379.10L148.05 381.20L146.55 379.10ZM148.05 375.50L149.55 377.60L148.05 379.70L146.55 377.60ZM148.05 374.00L149.55 376.10L148.05 378.20L146.55 376.10ZM148.05 372.50L149.55 374.60L148.05 376.70L146.55 374.60ZM148.05 371.00L149.55 373.10L148.05 375.20L146.55 373.10ZM148.05 369.50L149.55 371.60L148.05 373.70L146.55 371.60ZM148.05 368.50L149.55 370.60L148.05 372.70L146.55 370.60ZM148.05 357.30L149.55 359.40L148.05 361.50L146.55 359.40ZM148.05 349.90L149.55 352.00L148.05 354.10L146.55 352.00Z" fill="#222222"/>
<path d="M189.55 389.40V401.40M189.55 408.60V410.30" stroke="#222222" stroke-width="0.80" fill="none"/>
<path d="M181.25 389.40H197.85" stroke="#222222" stroke-width="0.85" fill="none"/>
<path d="M181.25 410.10H197.85" stroke="#222222" stroke-width="0.85" fill="none" opacity="0.55"/>
<rect x="172.95" y="401.40" width="33.20" height="7.20" fill="#8eaebc" stroke="#222222" stroke-width="0.85"/>
<line x1="172.95" y1="405.40" x2="206.15" y2="405.40" stroke="#222222" stroke-width="0.95"/>
<path d="M189.55 386.10L191.05 388.20L189.55 390.30L188.05 388.20ZM189.55 384.60L191.05 386.70L189.55 388.80L188.05 386.70ZM189.55 383.10L191.05 385.20L189.55 387.30L188.05 385.20ZM189.55 381.60L191.05 383.70L189.55 385.80L188.05 383.70ZM189.55 380.10L191.05 382.20L189.55 384.30L188.05 382.20ZM189.55 378.60L191.05 380.70L189.55 382.80L188.05 380.70ZM189.55 377.10L191.05 379.20L189.55 381.30L188.05 379.20ZM189.55 375.60L191.05 377.70L189.55 379.80L188.05 377.70ZM189.55 375.10L191.05 377.20L189.55 379.30L188.05 377.20ZM189.55 365.70L191.05 367.80L189.55 369.90L188.05 367.80ZM189.55 362.30L191.05 364.40L189.55 366.50L188.05 364.40Z" fill="#222222"/>
<path d="M231.05 392.60V402.60M231.05 409.40V410.30" stroke="#222222" stroke-width="0.80" fill="none"/>
<path d="M222.75 392.60H239.35" stroke="#222222" stroke-width="0.85" fill="none"/>
<path d="M222.75 410.10H239.35" stroke="#222222" stroke-width="0.85" fill="none" opacity="0.55"/>
<rect x="214.45" y="402.60" width="33.20" height="6.80" fill="#81a3ae" stroke="#222222" stroke-width="0.85"/>
<line x1="214.45" y1="406.20" x2="247.65" y2="406.20" stroke="#222222" stroke-width="0.95"/>
<path d="M231.05 389.30L232.55 391.40L231.05 393.50L229.55 391.40ZM231.05 387.80L232.55 389.90L231.05 392.00L229.55 389.90ZM231.05 386.30L232.55 388.40L231.05 390.50L229.55 388.40ZM231.05 384.80L232.55 386.90L231.05 389.00L229.55 386.90ZM231.05 383.30L232.55 385.40L231.05 387.50L229.55 385.40ZM231.05 381.80L232.55 383.90L231.05 386.00L229.55 383.90ZM231.05 380.30L232.55 382.40L231.05 384.50L229.55 382.40ZM231.05 378.80L232.55 380.90L231.05 383.00L229.55 380.90ZM231.05 377.30L232.55 379.40L231.05 381.50L229.55 379.40ZM231.05 375.80L232.55 377.90L231.05 380.00L229.55 377.90ZM231.05 374.30L232.55 376.40L231.05 378.50L229.55 376.40ZM231.05 372.80L232.55 374.90L231.05 377.00L229.55 374.90ZM231.05 371.30L232.55 373.40L231.05 375.50L229.55 373.40ZM231.05 370.10L232.55 372.20L231.05 374.30L229.55 372.20ZM231.05 364.30L232.55 366.40L231.05 368.50L229.55 366.40Z" fill="#222222"/>
<path d="M272.55 392.60V402.40M272.55 409.00V410.30" stroke="#222222" stroke-width="0.80" fill="none"/>
<path d="M264.25 392.60H280.85" stroke="#222222" stroke-width="0.85" fill="none"/>
<path d="M264.25 410.10H280.85" stroke="#222222" stroke-width="0.85" fill="none" opacity="0.55"/>
<rect x="255.95" y="402.40" width="33.20" height="6.60" fill="#7398a0" stroke="#222222" stroke-width="0.85"/>
<line x1="255.95" y1="406.00" x2="289.15" y2="406.00" stroke="#222222" stroke-width="0.95"/>
<path d="M272.55 389.30L274.05 391.40L272.55 393.50L271.05 391.40ZM272.55 387.80L274.05 389.90L272.55 392.00L271.05 389.90ZM272.55 386.30L274.05 388.40L272.55 390.50L271.05 388.40ZM272.55 384.80L274.05 386.90L272.55 389.00L271.05 386.90ZM272.55 383.30L274.05 385.40L272.55 387.50L271.05 385.40ZM272.55 381.80L274.05 383.90L272.55 386.00L271.05 383.90ZM272.55 380.30L274.05 382.40L272.55 384.50L271.05 382.40ZM272.55 378.80L274.05 380.90L272.55 383.00L271.05 380.90ZM272.55 378.50L274.05 380.60L272.55 382.70L271.05 380.60Z" fill="#222222"/>
<path d="M314.05 388.60V400.50M314.05 408.60V410.30" stroke="#222222" stroke-width="0.80" fill="none"/>
<path d="M305.75 388.60H322.35" stroke="#222222" stroke-width="0.85" fill="none"/>
<path d="M305.75 410.10H322.35" stroke="#222222" stroke-width="0.85" fill="none" opacity="0.55"/>
<rect x="297.45" y="400.50" width="33.20" height="8.10" fill="#658d92" stroke="#222222" stroke-width="0.85"/>
<line x1="297.45" y1="405.00" x2="330.65" y2="405.00" stroke="#222222" stroke-width="0.95"/>
<path d="M314.05 385.30L315.55 387.40L314.05 389.50L312.55 387.40ZM314.05 383.80L315.55 385.90L314.05 388.00L312.55 385.90ZM314.05 382.30L315.55 384.40L314.05 386.50L312.55 384.40ZM314.05 380.80L315.55 382.90L314.05 385.00L312.55 382.90ZM314.05 379.30L315.55 381.40L314.05 383.50L312.55 381.40ZM314.05 377.80L315.55 379.90L314.05 382.00L312.55 379.90ZM314.05 376.30L315.55 378.40L314.05 380.50L312.55 378.40ZM314.05 374.80L315.55 376.90L314.05 379.00L312.55 376.90ZM314.05 373.30L315.55 375.40L314.05 377.50L312.55 375.40ZM314.05 371.80L315.55 373.90L314.05 376.00L312.55 373.90ZM314.05 370.30L315.55 372.40L314.05 374.50L312.55 372.40ZM314.05 368.80L315.55 370.90L314.05 373.00L312.55 370.90ZM314.05 367.30L315.55 369.40L314.05 371.50L312.55 369.40ZM314.05 365.80L315.55 367.90L314.05 370.00L312.55 367.90ZM314.05 364.30L315.55 366.40L314.05 368.50L312.55 366.40ZM314.05 363.10L315.55 365.20L314.05 367.30L312.55 365.20Z" fill="#222222"/>
<path d="M355.55 388.00V400.20M355.55 408.60V410.30" stroke="#222222" stroke-width="0.80" fill="none"/>
<path d="M347.25 388.00H363.85" stroke="#222222" stroke-width="0.85" fill="none"/>
<path d="M347.25 410.10H363.85" stroke="#222222" stroke-width="0.85" fill="none" opacity="0.55"/>
<rect x="338.95" y="400.20" width="33.20" height="8.40" fill="#578283" stroke="#222222" stroke-width="0.85"/>
<line x1="338.95" y1="405.40" x2="372.15" y2="405.40" stroke="#222222" stroke-width="0.95"/>
<path d="M355.55 384.70L357.05 386.80L355.55 388.90L354.05 386.80ZM355.55 383.20L357.05 385.30L355.55 387.40L354.05 385.30ZM355.55 381.70L357.05 383.80L355.55 385.90L354.05 383.80ZM355.55 380.20L357.05 382.30L355.55 384.40L354.05 382.30ZM355.55 378.70L357.05 380.80L355.55 382.90L354.05 380.80ZM355.55 377.20L357.05 379.30L355.55 381.40L354.05 379.30ZM355.55 375.70L357.05 377.80L355.55 379.90L354.05 377.80ZM355.55 374.20L357.05 376.30L355.55 378.40L354.05 376.30ZM355.55 372.70L357.05 374.80L355.55 376.90L354.05 374.80ZM355.55 372.10L357.05 374.20L355.55 376.30L354.05 374.20ZM355.55 357.90L357.05 360.00L355.55 362.10L354.05 360.00Z" fill="#222222"/>
<path d="M397.05 388.40V401.00M397.05 409.00V410.30" stroke="#222222" stroke-width="0.80" fill="none"/>
<path d="M388.75 388.40H405.35" stroke="#222222" stroke-width="0.85" fill="none"/>
<path d="M388.75 410.10H405.35" stroke="#222222" stroke-width="0.85" fill="none" opacity="0.55"/>
<rect x="380.45" y="401.00" width="33.20" height="8.00" fill="#487674" stroke="#222222" stroke-width="0.85"/>
<line x1="380.45" y1="405.40" x2="413.65" y2="405.40" stroke="#222222" stroke-width="0.95"/>
<path d="M397.05 385.10L398.55 387.20L397.05 389.30L395.55 387.20ZM397.05 383.60L398.55 385.70L397.05 387.80L395.55 385.70ZM397.05 382.10L398.55 384.20L397.05 386.30L395.55 384.20ZM397.05 380.60L398.55 382.70L397.05 384.80L395.55 382.70ZM397.05 379.10L398.55 381.20L397.05 383.30L395.55 381.20ZM397.05 377.60L398.55 379.70L397.05 381.80L395.55 379.70ZM397.05 376.10L398.55 378.20L397.05 380.30L395.55 378.20ZM397.05 374.60L398.55 376.70L397.05 378.80L395.55 376.70ZM397.05 373.10L398.55 375.20L397.05 377.30L395.55 375.20ZM397.05 371.60L398.55 373.70L397.05 375.80L395.55 373.70ZM397.05 370.10L398.55 372.20L397.05 374.30L395.55 372.20ZM397.05 370.10L398.55 372.20L397.05 374.30L395.55 372.20Z" fill="#222222"/>
<path d="M438.55 386.00V400.30M438.55 408.60V410.30" stroke="#222222" stroke-width="0.80" fill="none"/>
<path d="M430.25 386.00H446.85" stroke="#222222" stroke-width="0.85" fill="none"/>
<path d="M430.25 410.10H446.85" stroke="#222222" stroke-width="0.85" fill="none" opacity="0.55"/>
<rect x="421.95" y="400.30" width="33.20" height="8.30" fill="#396a65" stroke="#222222" stroke-width="0.85"/>
<line x1="421.95" y1="405.40" x2="455.15" y2="405.40" stroke="#222222" stroke-width="0.95"/>
<path d="M438.55 382.70L440.05 384.80L438.55 386.90L437.05 384.80ZM438.55 381.20L440.05 383.30L438.55 385.40L437.05 383.30ZM438.55 379.70L440.05 381.80L438.55 383.90L437.05 381.80ZM438.55 378.20L440.05 380.30L438.55 382.40L437.05 380.30ZM438.55 376.70L440.05 378.80L438.55 380.90L437.05 378.80ZM438.55 375.20L440.05 377.30L438.55 379.40L437.05 377.30ZM438.55 373.70L440.05 375.80L438.55 377.90L437.05 375.80ZM438.55 372.20L440.05 374.30L438.55 376.40L437.05 374.30ZM438.55 370.70L440.05 372.80L438.55 374.90L437.05 372.80ZM438.55 369.20L440.05 371.30L438.55 373.40L437.05 371.30ZM438.55 368.10L440.05 370.20L438.55 372.30L437.05 370.20ZM438.55 362.90L440.05 365.00L438.55 367.10L437.05 365.00ZM438.55 344.90L440.05 347.00L438.55 349.10L437.05 347.00Z" fill="#222222"/>
<path d="M480.05 389.00V401.40M480.05 408.60V410.30" stroke="#222222" stroke-width="0.80" fill="none"/>
<path d="M471.75 389.00H488.35" stroke="#222222" stroke-width="0.85" fill="none"/>
<path d="M471.75 410.10H488.35" stroke="#222222" stroke-width="0.85" fill="none" opacity="0.55"/>
<rect x="463.45" y="401.40" width="33.20" height="7.20" fill="#2a5e55" stroke="#222222" stroke-width="0.85"/>
<line x1="463.45" y1="406.00" x2="496.65" y2="406.00" stroke="#222222" stroke-width="0.95"/>
<path d="M480.05 385.70L481.55 387.80L480.05 389.90L478.55 387.80ZM480.05 384.20L481.55 386.30L480.05 388.40L478.55 386.30ZM480.05 382.70L481.55 384.80L480.05 386.90L478.55 384.80ZM480.05 381.20L481.55 383.30L480.05 385.40L478.55 383.30ZM480.05 379.70L481.55 381.80L480.05 383.90L478.55 381.80ZM480.05 378.20L481.55 380.30L480.05 382.40L478.55 380.30ZM480.05 376.70L481.55 378.80L480.05 380.90L478.55 378.80ZM480.05 375.20L481.55 377.30L480.05 379.40L478.55 377.30ZM480.05 373.70L481.55 375.80L480.05 377.90L478.55 375.80ZM480.05 372.20L481.55 374.30L480.05 376.40L478.55 374.30ZM480.05 371.10L481.55 373.20L480.05 375.30L478.55 373.20ZM480.05 362.50L481.55 364.60L480.05 366.70L478.55 364.60Z" fill="#222222"/>
<path d="M521.55 389.00V401.40M521.55 408.40V410.30" stroke="#222222" stroke-width="0.80" fill="none"/>
<path d="M513.25 389.00H529.85" stroke="#222222" stroke-width="0.85" fill="none"/>
<path d="M513.25 410.10H529.85" stroke="#222222" stroke-width="0.85" fill="none" opacity="0.55"/>
<rect x="504.95" y="401.40" width="33.20" height="7.00" fill="#1a5245" stroke="#222222" stroke-width="0.85"/>
<line x1="504.95" y1="405.00" x2="538.15" y2="405.00" stroke="#222222" stroke-width="0.95"/>
<path d="M521.55 385.70L523.05 387.80L521.55 389.90L520.05 387.80ZM521.55 384.20L523.05 386.30L521.55 388.40L520.05 386.30ZM521.55 382.70L523.05 384.80L521.55 386.90L520.05 384.80ZM521.55 381.20L523.05 383.30L521.55 385.40L520.05 383.30ZM521.55 379.70L523.05 381.80L521.55 383.90L520.05 381.80ZM521.55 378.20L523.05 380.30L521.55 382.40L520.05 380.30ZM521.55 376.70L523.05 378.80L521.55 380.90L520.05 378.80ZM521.55 375.20L523.05 377.30L521.55 379.40L520.05 377.30ZM521.55 373.70L523.05 375.80L521.55 377.90L520.05 375.80ZM521.55 373.10L523.05 375.20L521.55 377.30L520.05 375.20Z" fill="#222222"/>
<line x1="65.05" y1="410.30" x2="65.05" y2="412.30" stroke="#555" stroke-width="0.9"/>
<line x1="106.55" y1="410.30" x2="106.55" y2="412.30" stroke="#555" stroke-width="0.9"/>
<line x1="148.05" y1="410.30" x2="148.05" y2="412.30" stroke="#555" stroke-width="0.9"/>
<line x1="189.55" y1="410.30" x2="189.55" y2="412.30" stroke="#555" stroke-width="0.9"/>
<line x1="231.05" y1="410.30" x2="231.05" y2="412.30" stroke="#555" stroke-width="0.9"/>
<line x1="272.55" y1="410.30" x2="272.55" y2="412.30" stroke="#555" stroke-width="0.9"/>
<line x1="314.05" y1="410.30" x2="314.05" y2="412.30" stroke="#555" stroke-width="0.9"/>
<line x1="355.55" y1="410.30" x2="355.55" y2="412.30" stroke="#555" stroke-width="0.9"/>
<line x1="397.05" y1="410.30" x2="397.05" y2="412.30" stroke="#555" stroke-width="0.9"/>
<line x1="438.55" y1="410.30" x2="438.55" y2="412.30" stroke="#555" stroke-width="0.9"/>
<line x1="480.05" y1="410.30" x2="480.05" y2="412.30" stroke="#555" stroke-width="0.9"/>
<line x1="521.55" y1="410.30" x2="521.55" y2="412.30" stroke="#555" stroke-width="0.9"/>
<text x="40.60" y="414.40" text-anchor="end" font-size="11.4" textLength="16.6" lengthAdjust="spacingAndGlyphs">0.0</text>
<text x="40.60" y="395.04" text-anchor="end" font-size="11.4" textLength="16.6" lengthAdjust="spacingAndGlyphs">0.2</text>
<text x="40.60" y="375.68" text-anchor="end" font-size="11.4" textLength="16.6" lengthAdjust="spacingAndGlyphs">0.4</text>
<text x="40.60" y="356.32" text-anchor="end" font-size="11.4" textLength="16.6" lengthAdjust="spacingAndGlyphs">0.6</text>
<text x="40.60" y="336.96" text-anchor="end" font-size="11.4" textLength="16.6" lengthAdjust="spacingAndGlyphs">0.8</text>
<text x="40.60" y="317.60" text-anchor="end" font-size="11.4" textLength="16.6" lengthAdjust="spacingAndGlyphs">1.0</text>
<text x="65.05" y="422.70" text-anchor="middle" font-size="12.1" textLength="6.7" lengthAdjust="spacingAndGlyphs">1</text>
<text x="106.55" y="422.70" text-anchor="middle" font-size="12.1" textLength="6.7" lengthAdjust="spacingAndGlyphs">2</text>
<text x="148.05" y="422.70" text-anchor="middle" font-size="12.1" textLength="6.7" lengthAdjust="spacingAndGlyphs">3</text>
<text x="189.55" y="422.70" text-anchor="middle" font-size="12.1" textLength="6.7" lengthAdjust="spacingAndGlyphs">4</text>
<text x="231.05" y="422.70" text-anchor="middle" font-size="12.1" textLength="6.7" lengthAdjust="spacingAndGlyphs">5</text>
<text x="272.55" y="422.70" text-anchor="middle" font-size="12.1" textLength="6.7" lengthAdjust="spacingAndGlyphs">6</text>
<text x="314.05" y="422.70" text-anchor="middle" font-size="12.1" textLength="6.7" lengthAdjust="spacingAndGlyphs">7</text>
<text x="355.55" y="422.70" text-anchor="middle" font-size="12.1" textLength="6.7" lengthAdjust="spacingAndGlyphs">8</text>
<text x="397.05" y="422.70" text-anchor="middle" font-size="12.1" textLength="6.7" lengthAdjust="spacingAndGlyphs">9</text>
<text x="438.55" y="422.70" text-anchor="middle" font-size="12.1" textLength="13.2" lengthAdjust="spacingAndGlyphs">10</text>
<text x="480.05" y="422.70" text-anchor="middle" font-size="12.1" textLength="13.2" lengthAdjust="spacingAndGlyphs">11</text>
<text x="521.55" y="422.70" text-anchor="middle" font-size="12.1" textLength="13.2" lengthAdjust="spacingAndGlyphs">12</text>
<text x="293.30" y="310.20" text-anchor="middle" font-size="14" textLength="78" lengthAdjust="spacingAndGlyphs">Gate Line C</text>
<text transform="translate(19.30 363.00) rotate(-90)" x="0" y="0" text-anchor="middle" font-size="13.8" textLength="98.5" lengthAdjust="spacingAndGlyphs">Congestion(%)</text>
<text x="292.8" y="436.7" text-anchor="middle" font-size="14" textLength="41.4" lengthAdjust="spacingAndGlyphs">Month</text>
</svg>
</body></html>
